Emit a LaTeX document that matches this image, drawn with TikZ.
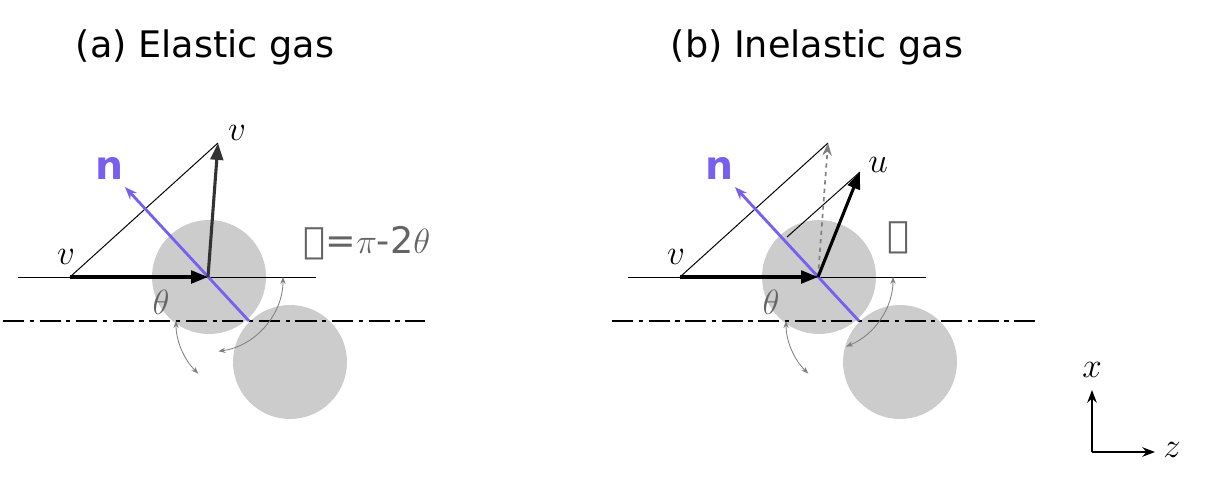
\documentclass[tikz,border=0pt]{standalone}
\usepackage{fontspec}
\setmainfont{DejaVu Sans}
\usetikzlibrary{arrows.meta}
\definecolor{nblue}{RGB}{120,95,240}
\definecolor{ball}{RGB}{204,204,204}
\definecolor{lbl}{RGB}{100,100,100}
\tikzset{
  vec/.style={line width=2.2pt, -{Triangle[length=12pt,width=9pt]}},
  thin line/.style={line width=0.7pt},
  angle arc/.style={gray, line width=0.6pt, {Stealth[length=5pt]}-{Stealth[length=5pt]}},
  axisline/.style={line width=1.4pt, dash pattern=on 15pt off 4pt on 3pt off 4pt},
  lbl/.style={font=\fontsize{26}{30}\selectfont}
}
\begin{document}
\begin{tikzpicture}[x=0.025cm, y=-0.025cm]
    \useasboundingbox (0,0) rectangle (1215,481);
    % panel (a)
    \node[lbl] (ta) at (205,47) {(a) Elastic gas};
    \fill[ball] (209,277) circle (57) (290,362) circle (57);
    \draw[axisline] (3,321) -- (425,321);
    \coordinate (ca) at (208,277);
    \coordinate (pa) at (249,321);
    \coordinate (va) at (70,277);
    \coordinate (wa) at (218,143);
    \draw[thin line] (18,277) -- (316,277);
    \draw[thin line] (va) -- (wa);
    \draw[nblue, line width=2pt, -{Stealth[length=9pt]}] (pa) -- (125,187);
    \node[nblue, lbl, font=\bfseries\fontsize{28}{30}\selectfont] (na) at (110,168) {n};
    \draw[vec] (va) -- (ca);
    \draw[vec, black!80] (ca) -- (wa);
    \node[lbl] (la) at (66,257) {$v$};
    \node[lbl] (lb) at (237,133) {$v$};
    \draw[angle arc] ([shift={(82:75)}]ca) arc[start angle=82, end angle=0, radius=75];
    \draw[angle arc] ([shift={(180:73)}]pa) arc[start angle=180, end angle=134, radius=73];
    \node[lbl, text=lbl] (oa) at (367,243) {$\mathit{\Omega}$=$\pi$-2$\theta$};
    \node[lbl, text=lbl] (tha) at (161,302) {$\theta$};
    % panel (b)
    \node[lbl] (tb) at (817,47) {(b) Inelastic gas};
    \fill[ball] (819,277) circle (57) (900,362) circle (57);
    \draw[axisline] (612,321) -- (1035,321);
    \coordinate (cb) at (818,277);
    \coordinate (pb) at (859,321);
    \coordinate (vb) at (680,277);
    \coordinate (wb) at (828,143);
    \coordinate (ub) at (860,172);
    \draw[thin line] (628,277) -- (926,277);
    \draw[thin line] (vb) -- (wb);
    \draw[thin line] (787,237) -- (ub);
    \draw[nblue, line width=2pt, -{Stealth[length=9pt]}] (pb) -- (735,187);
    \node[nblue, font=\bfseries\fontsize{28}{30}\selectfont] (nb) at (720,168) {n};
    \draw[vec] (vb) -- (cb);
    \draw[gray, dashed, line width=1.2pt, -{Stealth[length=9pt]}] (cb) -- (wb);
    \draw[vec] (cb) -- (ub);
    \node[lbl] (lc) at (676,257) {$v$};
    \node[lbl] (ld) at (878,165) {$u$};
    \draw[angle arc] ([shift={(68:75)}]cb) arc[start angle=68, end angle=0, radius=75];
    \draw[angle arc] ([shift={(180:73)}]pb) arc[start angle=180, end angle=134, radius=73];
    \node[lbl, text=lbl] (ob) at (898,238) {$\mathit{\Omega}$};
    \node[lbl, text=lbl] (thb) at (771,302) {$\theta$};
    % axes
    \coordinate (o) at (1092,452);
    \draw[line width=1.4pt, -{Stealth[length=9pt]}] (o) -- (1092,390);
    \draw[line width=1.4pt, -{Stealth[length=9pt]}] (o) -- (1155,452);
    \node[lbl] (lx) at (1092,370) {$x$};
    \node[lbl] (lz) at (1172,450) {$z$};
\end{tikzpicture}
\end{document}
